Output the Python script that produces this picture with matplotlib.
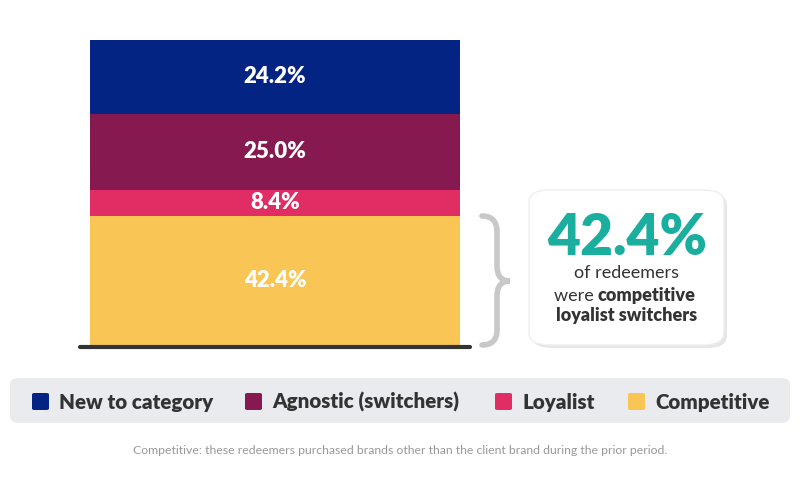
import matplotlib
matplotlib.use("Agg")
import matplotlib.pyplot as plt
from matplotlib.patches import FancyBboxPatch, PathPatch
from matplotlib.path import Path

categories = ["Competitive", "Loyalist", "Agnostic (switchers)", "New to category"]
values = [42.4, 8.4, 25.0, 24.2]
colors = ["#f9c555", "#e02d64", "#861a50", "#032483"]
legend_order = ["New to category", "Agnostic (switchers)", "Loyalist", "Competitive"]
legend_x = [32, 245, 495, 628]

plt.rcParams['font.family'] = ['Lato', 'DejaVu Sans']
W, H = 800, 500
fig = plt.figure(figsize=(8, 5), dpi=100)
def px(x, y):
    return (x / W, 1 - y / H)

ax = fig.add_axes([90 / W, 1 - 345 / H, 370 / W, 305 / H])
bottom = 0
for v, c in zip(values, colors):
    ax.bar(0.5, v, width=1, bottom=bottom, color=c, edgecolor='none')
    ax.text(0.5, bottom + v / 2, f"{v:.1f}%", ha='center', va='center',
            color='white', fontsize=16, fontweight='heavy')
    bottom += v
ax.set_xlim(0, 1)
ax.set_ylim(0, bottom)
ax.axis('off')

T = fig.transFigure
fig.lines.append(plt.Line2D([80 / W, 470 / W], [1 - 347 / H] * 2, transform=T,
                            color='#333333', lw=3, solid_capstyle='round'))

pts = [(482, 216), (497, 216), (497, 232), (497, 266), (497, 281), (510, 281),
       (497, 281), (497, 296), (497, 330), (497, 345), (482, 345)]
codes = [Path.MOVETO, Path.CURVE3, Path.CURVE3, Path.LINETO, Path.CURVE3, Path.CURVE3,
         Path.CURVE3, Path.CURVE3, Path.LINETO, Path.CURVE3, Path.CURVE3]
fig.patches.append(PathPatch(Path([px(*p) for p in pts], codes), transform=T,
                             fill=False, edgecolor='#c8c8c8', lw=4, capstyle='round'))

sx, sy = px(532, 348)
fig.patches.append(FancyBboxPatch((sx, sy), 195 / W, 155 / H, transform=T,
                                  boxstyle="round,pad=0,rounding_size=0.025",
                                  facecolor='#e6e6e6', edgecolor='none', zorder=1))
bx, by = px(529, 345)
fig.patches.append(FancyBboxPatch((bx, by), 195 / W, 155 / H, transform=T,
                                  boxstyle="round,pad=0,rounding_size=0.025",
                                  facecolor='white', edgecolor='#eeeeee', zorder=2))
fig.text(*px(627, 238), "42.4%", ha='center', va='center', color='#1aae9f',
         fontsize=41, fontweight='heavy', zorder=3)
fig.text(*px(627, 273), "of redeemers", ha='center', va='center', color='#333333',
         fontsize=13, zorder=3)
fig.text(*px(598, 296), "were ", ha='right', va='center', color='#333333',
         fontsize=13, zorder=3)
fig.text(*px(598, 296), "competitive", ha='left', va='center', color='#333333',
         fontsize=13, fontweight='heavy', zorder=3)
fig.text(*px(627, 316), "loyalist switchers", ha='center', va='center', color='#333333',
         fontsize=13, fontweight='heavy', zorder=3)

lx, ly = px(10, 423)
fig.patches.append(FancyBboxPatch((lx, ly), 780 / W, 45 / H, transform=T,
                                  boxstyle="round,pad=0,rounding_size=0.012",
                                  facecolor='#e9ebee', edgecolor='none'))
cmap = dict(zip(categories, colors))
for name, x in zip(legend_order, legend_x):
    rx, ry = px(x, 410)
    fig.patches.append(FancyBboxPatch((rx, ry), 17 / W, 17 / H, transform=T,
                                      boxstyle="round,pad=0,rounding_size=0.003",
                                      facecolor=cmap[name], edgecolor='none'))
    fig.text(*px(x + 27, 402), name, ha='left', va='center', color='#333333',
             fontsize=14.8, fontweight='heavy')

fig.text(*px(400, 450), "Competitive: these redeemers purchased brands other than the client brand during the prior period.",
         ha='center', va='center', color='#999999', fontsize=8.8)

fig.savefig("out.png", dpi=100)
